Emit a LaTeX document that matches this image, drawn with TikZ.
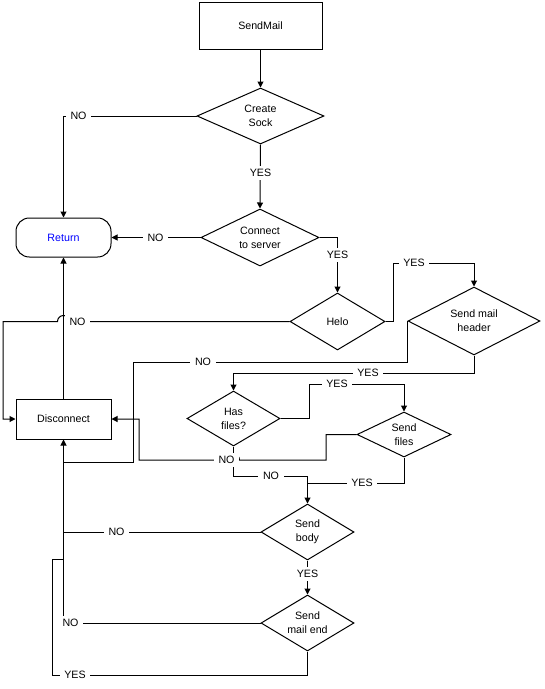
\documentclass[tikz,border=0pt]{standalone}
\usepackage{fontspec}
\setmainfont{Liberation Sans}
\usetikzlibrary{shapes.geometric,arrows.meta}
\definecolor{retblue}{RGB}{0,0,255}
\begin{document}
\begin{tikzpicture}[x=0.75pt,y=-0.75pt,
  every node/.style={font=\fontsize{8}{10.5}\selectfont, align=center},
  line/.style={line width=0.75pt},
  arr/.style={line width=0.75pt,-{Triangle[length=4.5pt,width=4.5pt]}},
  dec/.style={draw,diamond,line width=0.75pt,inner sep=0pt},
  proc/.style={draw,rectangle,line width=0.75pt,inner sep=0pt},
  lbl/.style={fill=white,inner xsep=3.6pt,inner ysep=2.6pt}]
\useasboundingbox (0,0) rectangle (544,689);

% nodes
\node[proc, minimum width=92.25pt, minimum height=35.25pt] (sendmail) at (260.5,25.5) {SendMail};
\node[dec, aspect=2.27, minimum width=95.25pt, minimum height=42pt] (create) at (260.5,116) {Create\\Sock};
\node[proc, rounded corners=10pt, minimum width=71.25pt, minimum height=29.25pt, text=retblue] (ret) at (63.5,237.5) {Return};
\node[dec, aspect=2.07, minimum width=88.5pt, minimum height=42.75pt] (connect) at (260,237.5) {Connect\\to server};
\node[dec, aspect=1.67, minimum width=71.25pt, minimum height=42.75pt] (helo) at (337.5,321.5) {Helo};
\node[dec, aspect=1.94, minimum width=99pt, minimum height=51pt] (header) at (474,321) {Send mail\\header};
\node[proc, minimum width=71.25pt, minimum height=30pt] (disc) at (63.5,419) {Disconnect};
\node[dec, aspect=1.69, minimum width=69.75pt, minimum height=41.25pt] (has) at (233.5,418.5) {Has\\files?};
\node[dec, aspect=2.09, minimum width=70.5pt, minimum height=33.75pt] (files) at (404,434.5) {Send\\files};
\node[dec, aspect=1.66, minimum width=69.75pt, minimum height=42pt] (body) at (307.5,532) {Send\\body};
\node[dec, aspect=1.66, minimum width=69.75pt, minimum height=42pt] (mailend) at (307.5,623) {Send\\mail end};

% junction points
\coordinate (j1) at (63.5,462);
\coordinate (j3) at (307.5,476);
\coordinate (j4) at (307.5,483);
\coordinate (j5) at (63.5,532);
\coordinate (j6) at (63.5,559);

% connectors
\draw[arr] (sendmail.south) -- (create.north);
\draw[arr] (create.west) -| (ret.north);
\draw[arr] (create.south) -- (connect.north);
\draw[arr] (connect.west) -- (ret.east);
\draw[arr] (connect.east) -| (helo.north);
\draw[arr] (helo.east) -| (393,263) -| (header.north);
\draw[arr] (helo.west) -- (69.5,321.5) arc[start angle=0,end angle=180,radius=4.5pt] -- (3,321.5) |- (disc.west);
\draw[line] (header.west) |- (133,362) |- (j1);
\draw[arr] (header.south) -- (474,373) -| (has.north);
\draw[arr] (has.east) -| (309,384) -| (files.north);
\draw[arr] (files.west) -| (326,460) -- (239.5,460) arc[start angle=0,end angle=180,radius=4.5pt] -- (139,460) |- (disc.east);
\draw[arr] (has.south) |- (j3) -- (body.north);
\draw[line] (files.south) |- (j4);
\draw[line] (body.west) -- (j5);
\draw[arr] (body.south) -- (mailend.north);
\draw[arr] (mailend.west) -| (disc.south);
\draw[line] (mailend.south) |- (52,675) |- (j6);
\draw[arr] (disc.north) -- (ret.south);

% labels
\node[lbl] (n1) at (78.5,116) {NO};
\node[lbl] (y1) at (260.5,173) {YES};
\node[lbl] (n2) at (155.5,237.5) {NO};
\node[lbl] (y2) at (337.5,255) {YES};
\node[lbl] (y3) at (414,263) {YES};
\node[lbl] (n3) at (77.5,321.5) {NO};
\node[lbl] (n4) at (203,362) {NO};
\node[lbl] (y4) at (368,373) {YES};
\node[lbl] (y5) at (337,384) {YES};
\node[lbl] (n5) at (226.5,460) {NO};
\node[lbl] (n6) at (271,476) {NO};
\node[lbl] (y6) at (362,483) {YES};
\node[lbl] (n7) at (116.5,532) {NO};
\node[lbl] (y7) at (307.5,574) {YES};
\node[lbl] (n8) at (70.5,623) {NO};
\node[lbl] (y8) at (75,675) {YES};
\end{tikzpicture}
\end{document}
